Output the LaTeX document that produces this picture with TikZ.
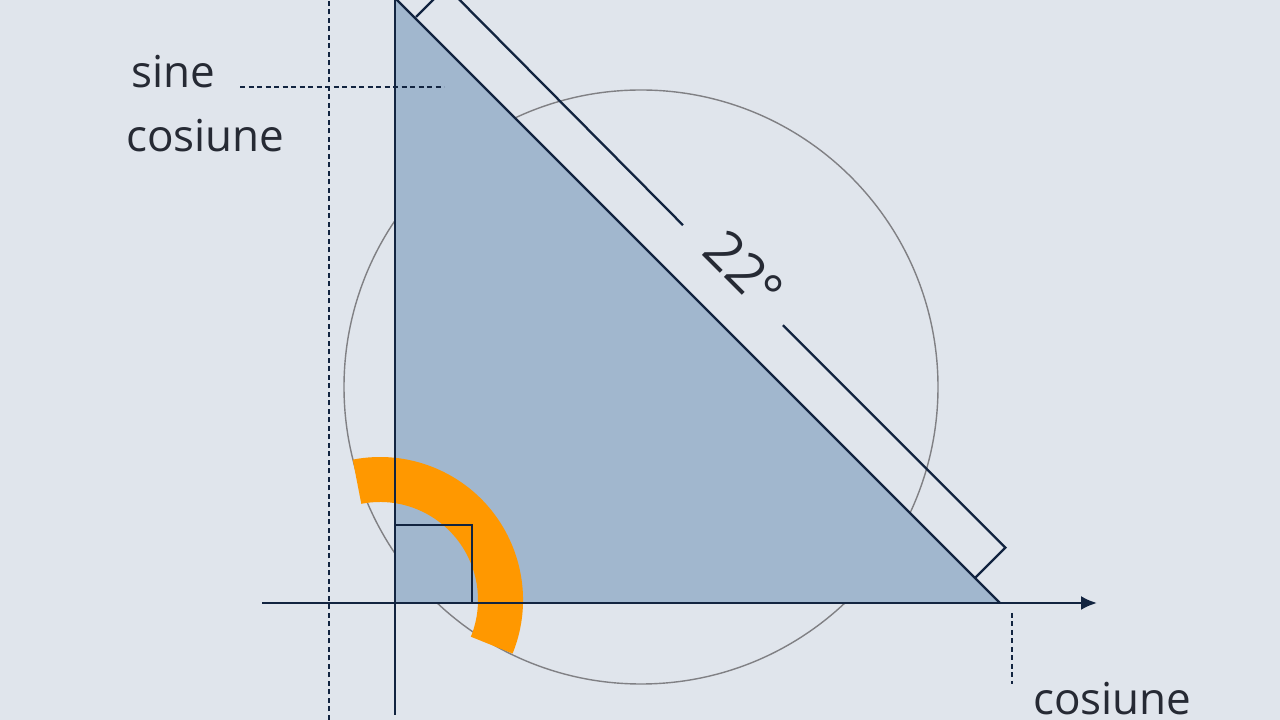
\documentclass[tikz,border=0pt]{standalone}
\usepackage{fontspec}
\setmainfont{Open Sans}
\usetikzlibrary{arrows.meta}
\definecolor{bg}{RGB}{224,229,236}
\definecolor{trifill}{RGB}{161,183,206}
\definecolor{navy}{RGB}{18,36,64}
\definecolor{orng}{RGB}{255,152,0}
\definecolor{circ}{RGB}{128,128,132}
\definecolor{txt}{RGB}{38,42,52}
\tikzset{
  axisline/.style={navy, line width=2.4pt},
  edgeline/.style={navy, line width=2.3pt},
  dashline/.style={navy, line width=1.4pt, dash pattern=on 5pt off 3.5pt},
  lbl/.style={text=txt, font=\fontsize{44}{50}\selectfont, inner sep=0pt, anchor=base west},
}
\begin{document}
\begin{tikzpicture}[x=1pt,y=1pt]
\useasboundingbox (0,0) rectangle (1280,720);
\fill[bg] (0,0) rectangle (1280,720);
% circle
\draw[circ, line width=1.4pt] (641,333) circle[radius=297];
% triangle
\coordinate (C) at (395,117);
\coordinate (T) at (395,722);
\coordinate (R) at (1000,117);
\fill[trifill] (C) -- (T) -- (R) -- cycle;
\draw[edgeline] (T) -- (R);
% orange annulus
\fill[orng] ([shift={(380,120)}]-22:143) arc[start angle=-22,end angle=101,radius=143]
  -- ([shift={(380,120)}]101:98) arc[start angle=101,end angle=-22,radius=98] -- cycle;
% right angle square
\draw[edgeline] (395,195) -- (472,195) -- (472,117);
% rectangle strip along hypotenuse
\coordinate (H1) at (416,703);
\coordinate (O1) at (446.4,733.4);
\coordinate (G1) at (683,494.8);
\coordinate (G2) at (783,394.8);
\coordinate (O2) at (1005.4,172.4);
\coordinate (H2) at (975,142);
\draw[edgeline] (H1) -- (O1) -- (G1);
\draw[edgeline] (G2) -- (O2) -- (H2);
\node[text=txt, font=\fontsize{54}{60}\selectfont, rotate=-45, inner sep=0pt] (ang) at (744,450) {22°};
% axes
\draw[axisline] (395,5) -- (395,720);
\draw[axisline, -{Latex[length=16pt,width=14pt]}] (262,117) -- (1097,117);
% dashed guides
\draw[dashline] (329,0) -- (329,720);
\draw[dashline] (240,633) -- (444,633);
\draw[dashline] (1012,107) -- (1012,36);
% labels
\node[lbl] (sine) at (131,632) {sine};
\node[lbl] (cos1) at (126,568) {cosiune};
\node[lbl] (cos2) at (1033,5) {cosiune};
\end{tikzpicture}
\end{document}
